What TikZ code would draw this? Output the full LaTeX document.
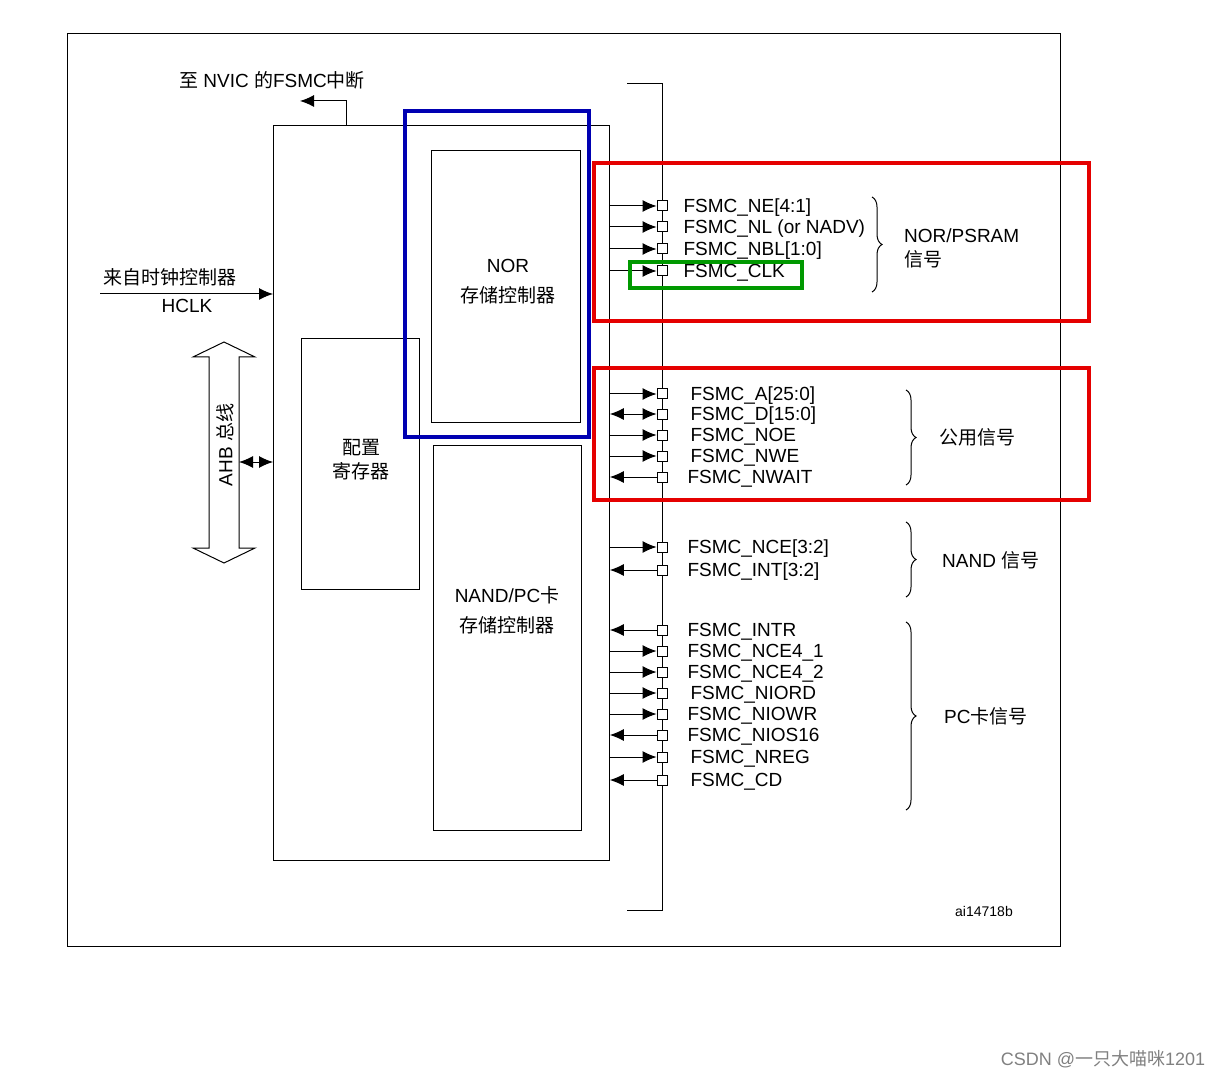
\documentclass[tikz,border=0pt]{standalone}
\usepackage{fontspec}
\setmainfont{Liberation Sans}
\newfontfamily\cjk{Noto Sans CJK SC}
\usetikzlibrary{arrows.meta,decorations.pathreplacing}
\tikzset{%
    block/.style = {draw, thin, rectangle, anchor=north west, inner sep=0pt},
    pin/.style = {draw, fill=white, rectangle, minimum size=5pt, inner sep=0pt, line width=0.5pt},
    sig/.style = {anchor=west, inner sep=0pt, yshift=-1pt, font=\fontsize{9.5}{10}\selectfont},
    lbl/.style = {align=left, font=\fontsize{9.5}{12}\selectfont},
    grp/.style = {decorate, decoration={brace, amplitude=5pt}, line width=0.5pt},
}

\begin{document}
\begin{tikzpicture}[x=0.5pt, y=-0.5pt, >={Latex[length=7pt,width=6pt]}, line width=0.5pt]
        \useasboundingbox (0,0) rectangle (1229,1079);
        \draw (67,34) rectangle (1060,946);

        % controller blocks
        \node[block, minimum width=168pt, minimum height=367.5pt] (fsmc) at (273,125) {};
        \node[block, minimum width=74.5pt, minimum height=136pt] (nor) at (431,150) {};
        \node[block, minimum width=59pt, minimum height=125.5pt] (cfg) at (301,338) {};
        \node[block, minimum width=74pt, minimum height=192.5pt] (nand) at (433,445) {};
        \node[lbl, align=center] (nortxt) at (508,282) {NOR\\[3pt]{\cjk 存储控制器}};
        \node[lbl, align=center] (cfgtxt) at (361,460) {\cjk 配置\\\cjk 寄存器};
        \node[lbl, align=center] (nandtxt) at (507,610) {NAND/PC{\cjk 卡}\\[3pt]{\cjk 存储控制器}};

        % interrupt and clock
        \node[lbl] (nvic) at (272,80) {{\cjk 至} NVIC {\cjk 的}FSMC{\cjk 中断}};
        \coordinate (irq) at (300,101);
        \draw[->] (346,125) |- (irq);
        \coordinate (clk) at (100,294);
        \draw[->] (clk) -- (fsmc.west |- clk);
        \node[lbl] (clksrc) at (170,277) {\cjk 来自时钟控制器};
        \node[lbl] (hclk) at (187,306) {HCLK};

        % AHB bus
        \draw (224,342) -- (255,357) -- (239,357) -- (239,548) -- (255,548) -- (224,563)
              -- (193,548) -- (209,548) -- (209,357) -- (193,357) -- cycle;
        \node[lbl, rotate=90] (ahb) at (225,445) {AHB {\cjk 总线}};
        \coordinate (ahbport) at (239,462);
        \draw[<->] (ahbport) -- (fsmc.west |- ahbport);

        % external bus
        \coordinate (bustop) at (627,84);
        \coordinate (busbot) at (627,910);
        \draw (bustop) -- (662,84) -- (662,910) -- (busbot);

        % signals: y / name / direction / text x
        \foreach \y/\name/\dir/\tx [count=\i] in {
            206/FSMC\_NE[4:1]/->/683, 227/FSMC\_NL (or NADV)/->/683,
            249/FSMC\_NBL[1:0]/->/683, 271/FSMC\_CLK/->/683,
            394/FSMC\_A[25:0]/->/690, 414/FSMC\_D[15:0]/<->/690,
            435/FSMC\_NOE/->/690, 456/FSMC\_NWE/->/690, 477/FSMC\_NWAIT/<-/687,
            547/FSMC\_NCE[3:2]/->/687, 570/FSMC\_INT[3:2]/<-/687,
            630/FSMC\_INTR/<-/687, 651/FSMC\_NCE4\_1/->/687, 672/FSMC\_NCE4\_2/->/687,
            693/FSMC\_NIORD/->/690, 714/FSMC\_NIOWR/->/687, 735/FSMC\_NIOS16/<-/687,
            757/FSMC\_NREG/->/690, 780/FSMC\_CD/<-/690}
        {
            \node[pin] (p\i) at (662,\y) {};
            \node[sig] (s\i) at (\tx,\y) {\name};
            \draw[\dir] (fsmc.east |- p\i) -- (p\i.west);
        }

        % signal groups
        \draw[grp] (872,197) -- (872,292);
        \node[lbl, anchor=west] (norgrp) at (897,248) {NOR/PSRAM\\\cjk 信号};
        \draw[grp] (906,390) -- (906,485);
        \node[lbl, anchor=west] (comgrp) at (932,437) {\cjk 公用信号};
        \draw[grp] (906,522) -- (906,597);
        \node[lbl, anchor=west] (nandgrp) at (935,560) {NAND {\cjk 信号}};
        \draw[grp] (906,622) -- (906,810);
        \node[lbl, anchor=west] (pcgrp) at (937,716) {PC{\cjk 卡信号}};
        \node[font=\fontsize{7}{8}\selectfont] (ref) at (984,911) {ai14718b};

        % highlights
        \draw[blue!70!black, line width=2pt] (405,111) rectangle (589,437);
        \draw[red!90!black, line width=2.2pt] (594,163) rectangle (1089,321);
        \draw[red!90!black, line width=2.2pt] (594,368) rectangle (1089,500);
        \draw[green!60!black, line width=2pt] (630,262) rectangle (802,288);

        \node[gray, font=\fontsize{9}{10}\selectfont] (mark) at (1103,1059) {CSDN @{\cjk 一只大喵咪}1201};
    \end{tikzpicture}
\end{document}
